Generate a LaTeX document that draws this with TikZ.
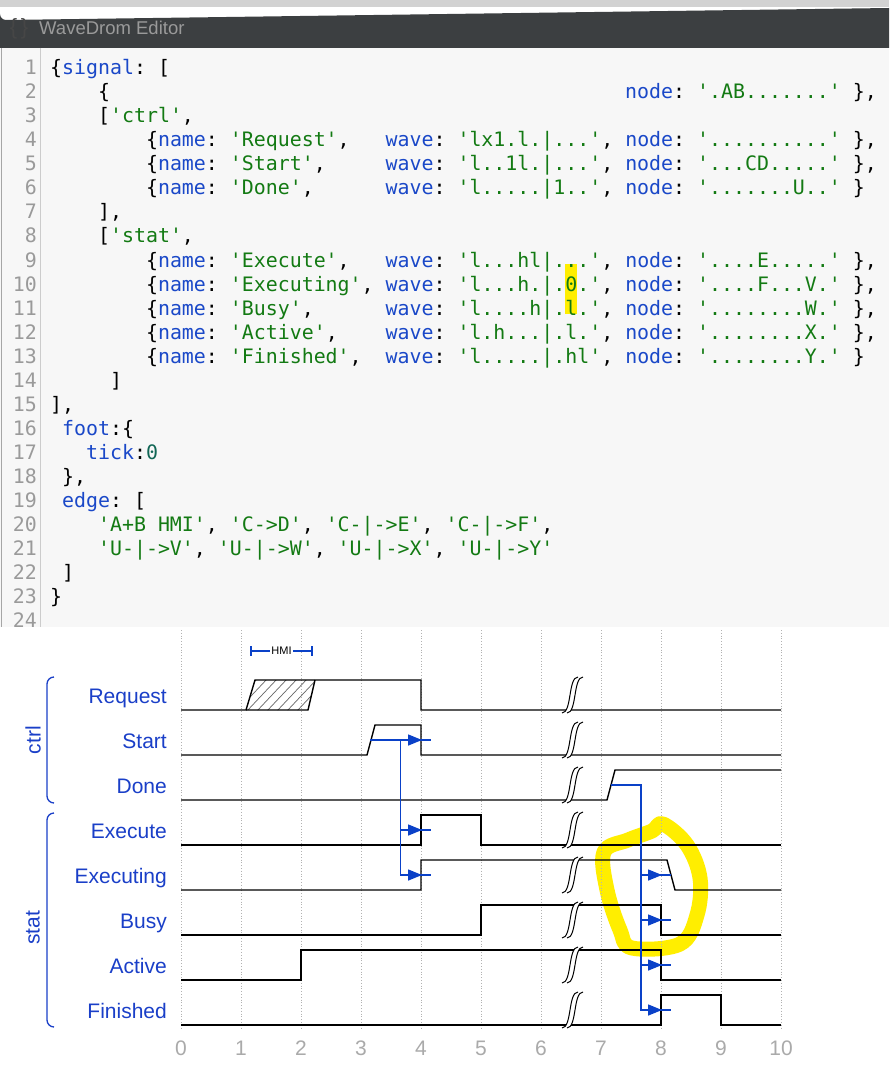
\documentclass[tikz,border=0pt]{standalone}
\usepackage{fontspec}
\setmainfont{Liberation Sans}
\newfontfamily\codefont{DejaVu Sans Mono}
\usetikzlibrary{arrows.meta,calc}
\definecolor{kwc}{HTML}{1A48C8}
\definecolor{stc}{HTML}{137A13}
\definecolor{numc}{HTML}{116655}
\definecolor{gutc}{HTML}{9A9A9A}
\definecolor{edbg}{HTML}{F7F7F7}
\definecolor{titlebg}{HTML}{3C3F41}
\definecolor{wdblue}{HTML}{0A41C8}
\definecolor{lblblue}{HTML}{1A3FC8}
\definecolor{tickc}{HTML}{AAAAAA}
\definecolor{hl}{HTML}{FFEE00}
\newcommand\kw[1]{\textcolor{kwc}{#1}}
\newcommand\st[1]{\textcolor{stc}{#1}}
\newcommand\spc[1]{\hspace*{#1\dimexpr 11.98pt\relax}}
\newcommand\codesetup{\codefont\fontsize{19.9}{24}\selectfont\spaceskip=11.98pt\relax\xspaceskip=11.98pt\relax}
\tikzset{
  code/.style={anchor=base west, inner sep=0, font=\codesetup},
  lnum/.style={anchor=base east, inner sep=0, text=gutc, font=\codesetup},
  wave/.style={line width=1.4pt, black},
  sig/.style={anchor=base east, inner sep=0, text=lblblue, font=\fontsize{21}{24}\selectfont},
  tk/.style={inner sep=0, text=tickc, font=\fontsize{21}{24}\selectfont},
  edg/.style={wdblue, line width=1.5pt},
  arr/.style={wdblue, line width=1.5pt, -{Triangle[length=14pt,width=11pt]}},
  grid/.style={gray!60, dotted, line width=0.8pt},
  brk/.style={lblblue, line width=1.3pt, rounded corners=7pt},
}
\begin{document}
\begin{tikzpicture}[x=1pt,y=-1pt]
\useasboundingbox (0,0) rectangle (889,1075);
\fill[white] (0,0) rectangle (889,1075);
% window chrome
\fill[gray!35] (0,0) rectangle (889,7);
\fill[titlebg] (0,48) -- (0,14) arc[start angle=180,end angle=90,radius=6] -- (889,8) -- (889,48) -- cycle;
\node[anchor=west, inner sep=0, text=gutc, font=\fontsize{18.5}{20}\selectfont] (title) at (39,28) {WaveDrom Editor};
\node[inner sep=0, text=gray!55!black, font=\fontsize{22}{22}\selectfont] (icon) at (19,29) {\{\,\}};
\fill[edbg] (0,48) rectangle (889,627);
\draw[gray!40, line width=0.8pt] (40,48) -- (40,627);
\draw[gray!70, line width=1pt] (1,48) -- (1,627);
% highlight
\fill[hl] (565,264) rectangle (577,314);
% code
\foreach \i in {1,...,24} { \node[lnum] (n\i) at (37,{75+24*(\i-1)}) {\i}; }
\node[code] (c1) at (50,75) {\{\kw{signal}: [};
\node[code] (c2) at (50,99) {\spc{4}\{\spc{43}\kw{node}: \st{'.AB.......'} \},};
\node[code] (c3) at (50,123) {\spc{4}[\st{'ctrl'},};
\node[code] (c4) at (50,147) {\spc{8}\{\kw{name}: \st{'Request'},\spc{3}\kw{wave}: \st{'lx1.l.|...'}, \kw{node}: \st{'..........'} \},};
\node[code] (c5) at (50,171) {\spc{8}\{\kw{name}: \st{'Start'},\spc{5}\kw{wave}: \st{'l..1l.|...'}, \kw{node}: \st{'...CD.....'} \},};
\node[code] (c6) at (50,195) {\spc{8}\{\kw{name}: \st{'Done'},\spc{6}\kw{wave}: \st{'l.....|1..'}, \kw{node}: \st{'.......U..'} \}};
\node[code] (c7) at (50,219) {\spc{4}],};
\node[code] (c8) at (50,243) {\spc{4}[\st{'stat'},};
\node[code] (c9) at (50,267) {\spc{8}\{\kw{name}: \st{'Execute'},\spc{3}\kw{wave}: \st{'l...hl|...'}, \kw{node}: \st{'....E.....'} \},};
\node[code] (c10) at (50,291) {\spc{8}\{\kw{name}: \st{'Executing'}, \kw{wave}: \st{'l...h.|.0.'}, \kw{node}: \st{'....F...V.'} \},};
\node[code] (c11) at (50,315) {\spc{8}\{\kw{name}: \st{'Busy'},\spc{6}\kw{wave}: \st{'l....h|.l.'}, \kw{node}: \st{'........W.'} \},};
\node[code] (c12) at (50,339) {\spc{8}\{\kw{name}: \st{'Active'},\spc{4}\kw{wave}: \st{'l.h...|.l.'}, \kw{node}: \st{'........X.'} \},};
\node[code] (c13) at (50,363) {\spc{8}\{\kw{name}: \st{'Finished'},\spc{2}\kw{wave}: \st{'l.....|.hl'}, \kw{node}: \st{'........Y.'} \}};
\node[code] (c14) at (50,387) {\spc{5}]};
\node[code] (c15) at (50,411) {],};
\node[code] (c16) at (50,435) {\spc{1}\kw{foot}:\{};
\node[code] (c17) at (50,459) {\spc{3}\kw{tick}:\textcolor{numc}{0}};
\node[code] (c18) at (50,483) {\spc{1}\},};
\node[code] (c19) at (50,507) {\spc{1}\kw{edge}: [};
\node[code] (c20) at (50,531) {\spc{4}\st{'A+B HMI'}, \st{'C->D'}, \st{'C-|->E'}, \st{'C-|->F'},};
\node[code] (c21) at (50,555) {\spc{4}\st{'U-|->V'}, \st{'U-|->W'}, \st{'U-|->X'}, \st{'U-|->Y'}};
\node[code] (c22) at (50,579) {\spc{1}]};
\node[code] (c23) at (50,603) {\}};
% yellow scribble
\draw[hl, line width=15pt, line cap=round, line join=round] plot[smooth cycle, tension=0.6] coordinates {(663,824) (687,845) (700,878) (697,915) (680,944) (632,948) (620,930) (607,890) (604,852) (628,840) (652,831)};
% grid
\foreach \k in {0,...,10} {
  \draw[grid] ({181+60*\k},630) -- ({181+60*\k},1030);
  \node[tk] (t\k) at ({181+60*\k},1048) {\k};
}
% labels
\foreach \nm/\r in {Request/0,Start/1,Done/2,Execute/3,Executing/4,Busy/5,Active/6,Finished/7} {
  \node[sig] (l\r) at (167,{703+45*\r}) {\nm};
}
% group brackets
\draw[brk] (54,677) -- (47,677) -- (47,803) -- (54,803);
\draw[brk] (54,813) -- (47,813) -- (47,1027) -- (54,1027);
\node[rotate=90, inner sep=0, text=lblblue, font=\fontsize{21}{24}\selectfont] (gctrl) at (33,740) {ctrl};
\node[rotate=90, inner sep=0, text=lblblue, font=\fontsize{21}{24}\selectfont] (gstat) at (33,928) {stat};
% waves
\begin{scope}
\clip (246,710) -- (255,680) -- (315,680) -- (308,710) -- cycle;
\foreach \s in {-40,-30,...,80} \draw[gray!80!black, line width=0.7pt] ({246+\s},712) -- ({246+\s+32},678);
\end{scope}
\draw[wave] (181,710) -- (246,710) -- (255,680) -- (421,680) -- (421,710) -- (781,710);
\draw[wave] (246,710) -- (308,710) -- (315,680);
\draw[wave] (181,755) -- (367,755) -- (375,725) -- (421,725) -- (421,755) -- (781,755);
\draw[wave] (181,800) -- (607,800) -- (615,770) -- (781,770);
\draw[wave] (181,845) -- (421,845) -- (421,815) -- (481,815) -- (481,845) -- (781,845);
\draw[wave] (181,890) -- (421,890) -- (421,860) -- (667,860) -- (675,890) -- (781,890);
\draw[wave] (181,935) -- (481,935) -- (481,905) -- (661,905) -- (661,935) -- (781,935);
\draw[wave] (181,980) -- (301,980) -- (301,950) -- (661,950) -- (661,980) -- (781,980);
\draw[wave] (181,1025) -- (661,1025) -- (661,995) -- (721,995) -- (721,1025) -- (781,1025);
% gaps
\foreach \r in {0,...,7} {
  \pgfmathsetmacro\L{710+45*\r}
  \fill[white] (562,\L+3) .. controls (572,\L+3) and (568,\L-33) .. (578,\L-33) -- (583,\L-33) .. controls (573,\L-33) and (577,\L+3) .. (567,\L+3) -- cycle;
  \draw[black, line width=1pt] (562,\L+3) .. controls (572,\L+3) and (568,\L-33) .. (578,\L-33);
  \draw[black, line width=1pt] (567,\L+3) .. controls (577,\L+3) and (573,\L-33) .. (583,\L-33);
}
% edge nodes
\coordinate (A) at (251,651);
\coordinate (B) at (312,651);
\coordinate (C) at (370,740);
\coordinate (D) at (431,740);
\coordinate (E) at (431,830);
\coordinate (F) at (431,875);
\coordinate (U) at (611,785);
\coordinate (V) at (671,875);
\coordinate (W) at (671,920);
\coordinate (X) at (671,965);
\coordinate (Y) at (671,1010);
% HMI
\node[inner sep=1pt, font=\fontsize{11}{12}\selectfont] (hmi) at ($(A)!0.5!(B)$) {HMI};
\draw[edg, line width=1.2pt] (A) -- (hmi.west);
\draw[edg, line width=1.2pt] (hmi.east) -- (B);
\draw[edg, line width=1.2pt] ($(A)+(0,-5)$) -- ($(A)+(0,5)$);
\draw[edg, line width=1.2pt] ($(B)+(0,-5)$) -- ($(B)+(0,5)$);
% C edges
\draw[edg] (C) -- (D);
\draw[edg] (C) -| (400.5,830) -- (E);
\draw[edg] (C) -| (400.5,875) -- (F);
\foreach \t in {D,E,F} \draw[arr] ($(\t)+(-26,0)$) -- ($(\t)+(-9,0)$);
% U edges
\draw[edg] (U) -| (641,875) -- (V);
\draw[edg] (U) -| (641,1010) -- (Y);
\draw[edg] (641,920) -- (W);
\draw[edg] (641,965) -- (X);
\foreach \t in {V,W,X,Y} \draw[arr] ($(\t)+(-26,0)$) -- ($(\t)+(-9,0)$);
\end{tikzpicture}
\end{document}
